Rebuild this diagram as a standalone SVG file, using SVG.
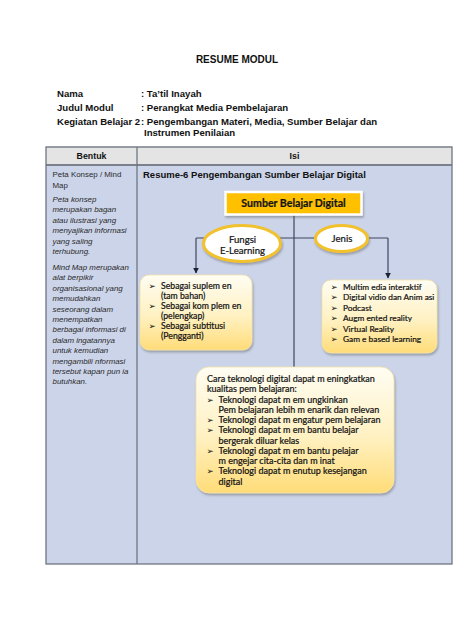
<svg xmlns="http://www.w3.org/2000/svg" width="474" height="632" viewBox="0 0 474 632">
<defs>
<style>
.hd{font-family:"Liberation Sans",Arial,sans-serif;font-weight:bold;fill:#111;}
.lc{font-family:"Liberation Sans",Arial,sans-serif;font-size:7.9px;fill:#2a2a2a;}
.it{font-style:italic;}
.mm{font-family:Lato,"Noto Sans",sans-serif;fill:#141414;stroke:#141414;stroke-width:0.22;}
.bl{font-family:"DejaVu Sans",sans-serif;font-size:8.5px;fill:#141414;}
.con{stroke:#3c4660;stroke-width:1.2;fill:none;}
</style>
<linearGradient id="boxGrad" x1="0" y1="0" x2="0" y2="1">
<stop offset="0" stop-color="#fffdf3"/>
<stop offset="0.55" stop-color="#fff1c2"/>
<stop offset="1" stop-color="#ffdc78"/>
</linearGradient>
<filter id="sh" x="-20%" y="-20%" width="140%" height="150%">
<feDropShadow dx="1" dy="2" stdDeviation="1.3" flood-color="#5a5a5a" flood-opacity="0.45"/>
</filter>
<marker id="arr" viewBox="0 0 10 10" refX="9" refY="5" markerWidth="5" markerHeight="5" orient="auto">
<path d="M0,0 L10,5 L0,10 z" fill="#1c2336"/>
</marker>
</defs>
<rect width="474" height="632" fill="#ffffff"/>

<g id="header">
<text class="hd" x="237" y="63" font-size="10" text-anchor="middle">RESUME MODUL</text>
<text class="hd" x="57" y="97" font-size="9.6">Nama</text>
<text class="hd" x="141" y="97" font-size="9.6">: Ta’til Inayah</text>
<text class="hd" x="57" y="111" font-size="9.6">Judul Modul</text>
<text class="hd" x="141" y="111" font-size="9.6">: Perangkat Media Pembelajaran</text>
<text class="hd" x="57" y="125" font-size="9.6">Kegiatan Belajar 2</text>
<text class="hd" x="141" y="125" font-size="9.6">: Pengembangan Materi, Media, Sumber Belajar dan</text>
<text class="hd" x="144" y="136" font-size="9.6">Instrumen Penilaian</text>
</g>

<g id="table">
<rect x="46" y="147" width="406" height="18" fill="#e4e4e4"/>
<rect x="46" y="165" width="406" height="399" fill="#ccd4e9"/>
<line x1="46" y1="147" x2="452" y2="147" stroke="#cfcfcf" stroke-width="1"/>
<line x1="46" y1="165" x2="452" y2="165" stroke="#7a808c" stroke-width="1.8"/>
<line x1="137" y1="147" x2="137" y2="564" stroke="#6f7582" stroke-width="1.3"/>
<rect x="46" y="147" width="406" height="417" fill="none" stroke="#6f7582" stroke-width="1.3"/>
<text class="hd" x="91.5" y="159" font-size="8.8" text-anchor="middle">Bentuk</text>
<text class="hd" x="294.5" y="159" font-size="8.8" text-anchor="middle">Isi</text>
</g>

<g id="left-column">
<text class="lc" x="52.5" y="177">Peta Konsep / Mind</text>
<text class="lc" x="52.5" y="187.5">Map</text>
<text class="lc it" x="52.5" y="202">Peta konsep</text>
<text class="lc it" x="52.5" y="212.4">merupakan bagan</text>
<text class="lc it" x="52.5" y="222.8">atau ilustrasi yang</text>
<text class="lc it" x="52.5" y="233.2">menyajikan informasi</text>
<text class="lc it" x="52.5" y="243.6">yang saling</text>
<text class="lc it" x="52.5" y="254">terhubung.</text>
<text class="lc it" x="52.5" y="270">Mind Map merupakan</text>
<text class="lc it" x="52.5" y="280.4">alat berpikir</text>
<text class="lc it" x="52.5" y="290.8">organisasional yang</text>
<text class="lc it" x="52.5" y="301.2">memudahkan</text>
<text class="lc it" x="52.5" y="311.6">seseorang dalam</text>
<text class="lc it" x="52.5" y="322">menempatkan</text>
<text class="lc it" x="52.5" y="332.4">berbagai informasi di</text>
<text class="lc it" x="52.5" y="342.8">dalam ingatannya</text>
<text class="lc it" x="52.5" y="353.2">untuk kemudian</text>
<text class="lc it" x="52.5" y="363.6">mengambili nformasi</text>
<text class="lc it" x="52.5" y="374">tersebut kapan pun ia</text>
<text class="lc it" x="52.5" y="384.4">butuhkan.</text>
</g>

<text class="hd" x="143" y="177.5" font-size="9.5">Resume-6 Pengembangan Sumber Belajar Digital</text>

<g id="connectors">
<line class="con" x1="294" y1="215" x2="294" y2="367"/>
<line class="con" x1="196" y1="238" x2="388" y2="238"/>
<line class="con" x1="196" y1="238" x2="196" y2="273" marker-end="url(#arr)"/>
<line class="con" x1="388" y1="238" x2="388" y2="278" marker-end="url(#arr)"/>
</g>

<g id="node-sumber">
<rect x="225.5" y="192" width="136" height="22.5" fill="#ffc000" stroke="#ffffff" stroke-width="2.5" filter="url(#sh)"/>
<text class="mm" x="293.5" y="206.5" font-size="10.6" font-weight="bold" text-anchor="middle">Sumber Belajar Digital</text>
</g>

<g id="node-fungsi">
<ellipse cx="242" cy="243.5" rx="38.5" ry="18" fill="#ffffff" stroke="#f2c12e" stroke-width="3" filter="url(#sh)"/>
<text class="mm" x="242.5" y="242.5" font-size="9.6" text-anchor="middle">Fungsi</text>
<text class="mm" x="242.5" y="253.5" font-size="9.6" text-anchor="middle">E-Learning</text>
</g>

<g id="node-jenis">
<ellipse cx="341.5" cy="238.5" rx="26" ry="13" fill="#ffffff" stroke="#f2c12e" stroke-width="3" filter="url(#sh)"/>
<text class="mm" x="342" y="241.5" font-size="9.6" text-anchor="middle">Jenis</text>
</g>

<g id="node-fungsi-list">
<rect x="140" y="275" width="112" height="75" rx="9" fill="url(#boxGrad)" stroke="#f4e3a8" stroke-width="0.8" filter="url(#sh)"/>
<text class="bl" x="148.5" y="288.5">➢</text>
<text class="mm" x="161" y="288.5" font-size="8.7">Sebagai suplem en</text>
<text class="mm" x="161" y="298.5" font-size="8.7">(tam bahan)</text>
<text class="bl" x="148.5" y="308.5">➢</text>
<text class="mm" x="161" y="308.5" font-size="8.7">Sebagai kom plem en</text>
<text class="mm" x="161" y="318.5" font-size="8.7">(pelengkap)</text>
<text class="bl" x="148.5" y="329">➢</text>
<text class="mm" x="161" y="329" font-size="8.7">Sebagai subtitusi</text>
<text class="mm" x="161" y="339" font-size="8.7">(Pengganti)</text>
</g>

<g id="node-jenis-list">
<rect x="322" y="280" width="115" height="73" rx="9" fill="url(#boxGrad)" stroke="#f4e3a8" stroke-width="0.8" filter="url(#sh)"/>
<text class="bl" x="330.5" y="289.5">➢</text>
<text class="mm" x="343" y="289.5" font-size="8.3">Multim edia interaktif</text>
<text class="bl" x="330.5" y="300">➢</text>
<text class="mm" x="343" y="300" font-size="8.3">Digital vidio dan Anim asi</text>
<text class="bl" x="330.5" y="310.5">➢</text>
<text class="mm" x="343" y="310.5" font-size="8.3">Podcast</text>
<text class="bl" x="330.5" y="321">➢</text>
<text class="mm" x="343" y="321" font-size="8.3">Augm ented reality</text>
<text class="bl" x="330.5" y="331.5">➢</text>
<text class="mm" x="343" y="331.5" font-size="8.3">Virtual Reality</text>
<text class="bl" x="330.5" y="342">➢</text>
<text class="mm" x="343" y="342" font-size="8.3">Gam e based learning</text>
</g>

<g id="node-cara">
<rect x="196" y="367" width="198" height="126" rx="13" fill="url(#boxGrad)" stroke="#f4e3a8" stroke-width="0.8" filter="url(#sh)"/>
<text class="mm" x="207" y="382" font-size="9">Cara teknologi digital dapat m eningkatkan</text>
<text class="mm" x="207" y="392.2" font-size="9">kualitas pem belajaran:</text>
<text class="bl" x="206.5" y="402.5">➢</text>
<text class="mm" x="218.5" y="402.5" font-size="9">Teknologi dapat m em ungkinkan</text>
<text class="mm" x="218.5" y="412.7" font-size="9">Pem belajaran lebih m enarik dan relevan</text>
<text class="bl" x="206.5" y="423">➢</text>
<text class="mm" x="218.5" y="423" font-size="9">Teknologi dapat m engatur pem belajaran</text>
<text class="bl" x="206.5" y="433.2">➢</text>
<text class="mm" x="218.5" y="433.2" font-size="9">Teknologi dapat m em bantu belajar</text>
<text class="mm" x="218.5" y="443.5" font-size="9">bergerak diluar kelas</text>
<text class="bl" x="206.5" y="453.7">➢</text>
<text class="mm" x="218.5" y="453.7" font-size="9">Teknologi dapat m em bantu pelajar</text>
<text class="mm" x="218.5" y="464" font-size="9">m engejar cita-cita dan m inat</text>
<text class="bl" x="206.5" y="474.2">➢</text>
<text class="mm" x="218.5" y="474.2" font-size="9">Teknologi dapat m enutup kesejangan</text>
<text class="mm" x="218.5" y="484.5" font-size="9">digital</text>
</g>
</svg>
